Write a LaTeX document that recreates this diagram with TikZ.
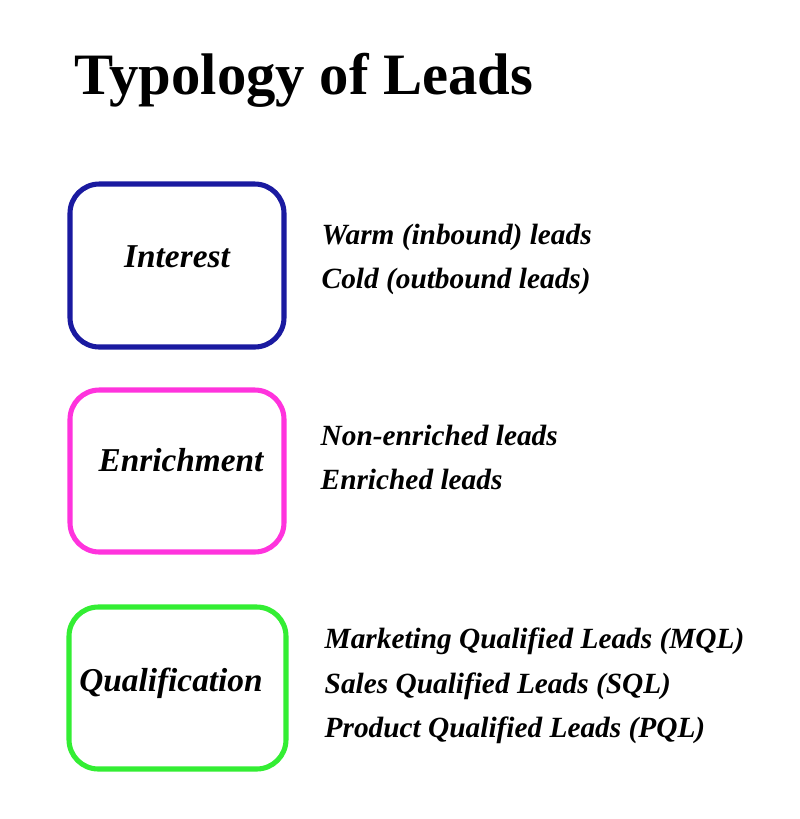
\documentclass[tikz,border=0pt]{standalone}
\usepackage{fontspec}
\setmainfont{Liberation Serif}
\begin{document}
\begin{tikzpicture}[x=0.75pt,y=-0.75pt,
  box/.style={draw,line width=3.8pt,rounded corners=22pt},
  lab/.style={font=\fontsize{25}{30}\selectfont\bfseries\itshape},
  item/.style={anchor=west,font=\fontsize{22}{26}\selectfont\bfseries\itshape}]
\useasboundingbox[fill=white] (0,0) rectangle (800,819);
\definecolor{cblue}{RGB}{26,26,160}
\definecolor{cmag}{RGB}{255,51,221}
\definecolor{cgreen}{RGB}{51,238,51}
\node[anchor=west,font=\fontsize{44}{50}\selectfont\bfseries] (title) at (70,80) {Typology of Leads};
\draw[box,cblue] (70,184) rectangle (284,347);
\draw[box,cmag] (70,390) rectangle (284,552);
\draw[box,cgreen] (69,607) rectangle (286,769);
\node[lab] (i) at (177,257) {Interest};
\node[lab] (e) at (181,460) {Enrichment};
\node[lab] (q) at (171,683) {Qualification};
\node[item] (a1) at (317,237) {Warm (inbound) leads};
\node[item] (a2) at (317,281) {Cold (outbound leads)};
\node[item] (b1) at (316,435) {Non-enriched leads};
\node[item] (b2) at (316,479) {Enriched leads};
\node[item] (c1) at (320,641) {Marketing Qualified Leads (MQL)};
\node[item] (c2) at (320,686) {Sales Qualified Leads (SQL)};
\node[item] (c3) at (320,730) {Product Qualified Leads (PQL)};
\end{tikzpicture}
\end{document}
